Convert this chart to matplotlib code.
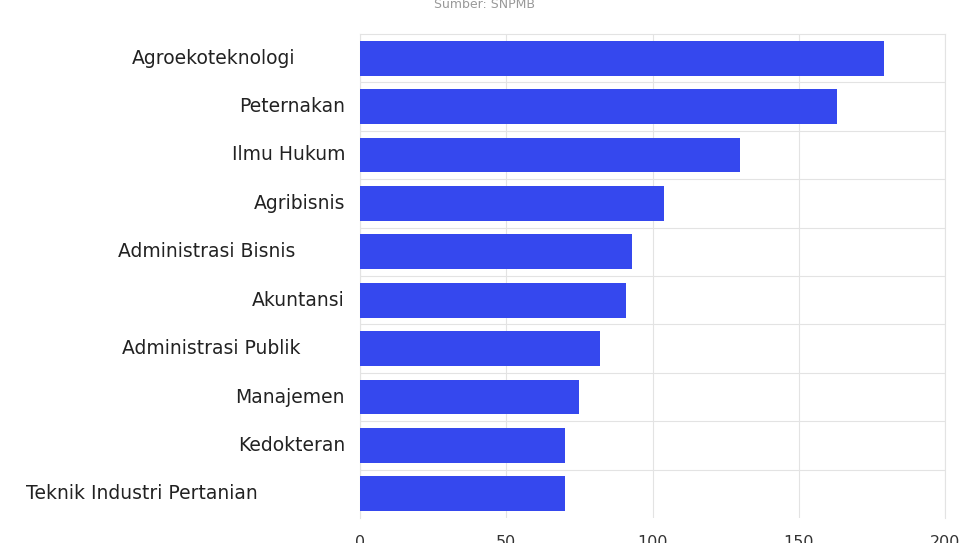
import matplotlib
matplotlib.use("Agg")
import matplotlib.pyplot as plt
from matplotlib.transforms import blended_transform_factory, offset_copy

categories = ["Agroekoteknologi", "Peternakan", "Ilmu Hukum", "Agribisnis",
              "Administrasi Bisnis", "Akuntansi", "Administrasi Publik",
              "Manajemen", "Kedokteran", "Teknik Industri Pertanian"]
values = [179, 163, 130, 104, 93, 91, 82, 75, 70, 70]
label_gap_px = [65, 15, 15, 15, 65, 15, 60, 15, 15, 102]
ticks = [0, 50, 100, 150, 200]

plt.rcParams['font.family'] = ['DejaVu Sans']
fig = plt.figure(figsize=(9.68, 5.43), dpi=100)
ax = fig.add_axes([360/968, 1-518/543, 585/968, 484/543])
n = len(categories)
ys = list(range(n))
ax.barh(ys, values, height=0.72, color="#3548EE", zorder=3)
ax.set_xlim(0, 200)
ax.set_ylim(n - 0.5, -0.5)
ax.set_xticks(ticks)
ax.set_xticklabels([str(t) for t in ticks], fontsize=11.5, color="#333333")
ax.set_yticks([])
for y in [i + 0.5 for i in range(n - 1)]:
    ax.axhline(y, color="#e3e3e3", lw=0.8, zorder=1)
ax.grid(axis='x', color="#e3e3e3", lw=0.8, zorder=1)
for s in ax.spines.values():
    s.set_color("#e3e3e3")
ax.spines['bottom'].set_visible(False)
ax.tick_params(axis='x', length=0, pad=12)
base = blended_transform_factory(ax.transAxes, ax.transData)
for y, c, g in zip(ys, categories, label_gap_px):
    tr = offset_copy(base, fig=fig, x=-g * 72 / 100, y=0, units='points')
    ax.text(0, y, c, transform=tr, ha='right', va='center', fontsize=13.5, color="#222222")
fig.text(485/968, 1 - 4/543, "Sumber: SNPMB", ha='center', va='center', fontsize=9, color="#999999")
fig.savefig("out.png", dpi=100)
